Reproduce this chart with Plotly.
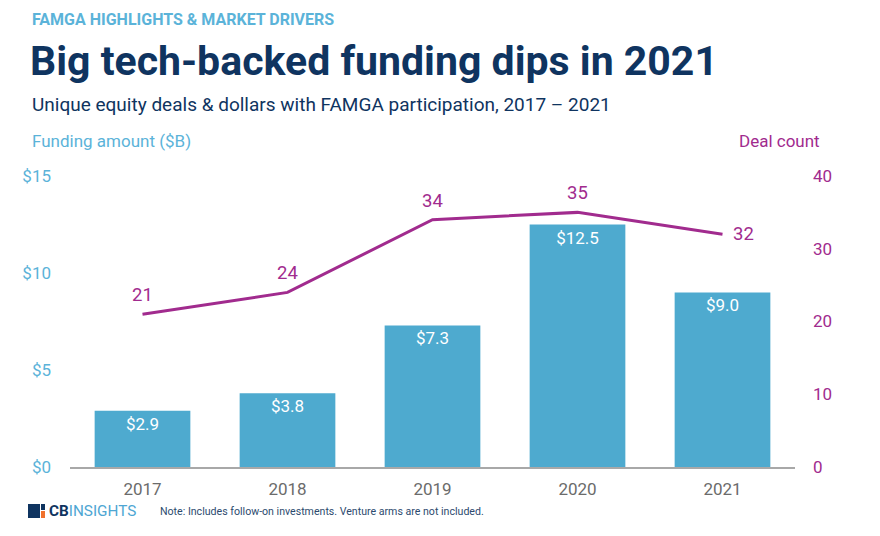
import plotly.graph_objects as go

years = ["2017", "2018", "2019", "2020", "2021"]
funding = [2.9, 3.8, 7.3, 12.5, 9.0]
deals = [21, 24, 34, 35, 32]
funding_labels = ["$2.9", "$3.8", "$7.3", "$12.5", "$9.0"]
left_ticks = [0, 5, 10, 15]
left_ticktext = ["$0", "$5", "$10", "$15"]
right_ticks = [0, 10, 20, 30, 40]

BLUE = "#4EAACF"
LIGHT = "#5BB3D9"
PURPLE = "#A12B8E"
NAVY = "#0F3460"
FONT = "Roboto"

W, H = 880, 536
L, R, T, B = 70, 85, 176, 69
pw, ph = W - L - R, H - T - B

fig = go.Figure()
fig.add_trace(go.Bar(
    x=years, y=funding, marker=dict(color=BLUE, line=dict(width=0)),
    text=funding_labels, textposition="inside", insidetextanchor="end",
    textfont=dict(color="white", size=17, family=FONT), textangle=0,
    hoverinfo="skip", showlegend=False, yaxis="y"))
fig.add_trace(go.Scatter(
    x=years, y=deals, mode="lines", line=dict(color=PURPLE, width=3),
    hoverinfo="skip", showlegend=False, yaxis="y2", cliponaxis=False))

annotations = []
for i, d in enumerate(deals):
    last = i == len(deals) - 1
    annotations.append(dict(
        x=i, y=d, xref="x", yref="y2", text=str(d), showarrow=False,
        xanchor="left" if last else "center", yanchor="middle",
        xshift=8 if last else 0, yshift=0 if last else 19,
        font=dict(size=18.5, color=PURPLE, family=FONT)))

fig.update_layout(
    width=W, height=H, margin=dict(l=L, r=R, t=T, b=B),
    paper_bgcolor="white", plot_bgcolor="white",
    font=dict(family=FONT),
    bargap=0.34,
    xaxis=dict(type="category", range=[-0.5, 4.5], showline=True, linecolor="#A8A8A8",
               linewidth=2, ticks="", showgrid=False, zeroline=False,
               tickfont=dict(size=17, color="#6B6B6B", family=FONT), ticklabelstandoff=6),
    yaxis=dict(range=[0, 15], tickvals=left_ticks, ticktext=left_ticktext, showgrid=False,
               zeroline=False, showline=False, ticks="",
               tickfont=dict(size=17, color=LIGHT, family=FONT), ticklabelstandoff=18),
    yaxis2=dict(range=[0, 40], tickvals=right_ticks, overlaying="y", side="right",
                showgrid=False, zeroline=False, showline=False, ticks="",
                tickfont=dict(size=17, color=PURPLE, family=FONT), ticklabelstandoff=17),
)

texts = [
    dict(text="<b>FAMGA HIGHLIGHTS &amp; MARKET DRIVERS</b>", x=30, y=19, size=16, color=LIGHT, anchor="left"),
    dict(text="<b>Big tech-backed funding dips in 2021</b>", x=28, y=61, size=41, color=NAVY, anchor="left"),
    dict(text="Unique equity deals &amp; dollars with FAMGA participation, 2017 – 2021", x=30, y=104, size=19, color=NAVY, anchor="left"),
    dict(text="Funding amount ($B)", x=30, y=141, size=17, color=LIGHT, anchor="left"),
    dict(text="Deal count", x=822, y=141, size=17, color=PURPLE, anchor="right"),
    dict(text="Note: Includes follow-on investments. Venture arms are not included.", x=158, y=511, size=10.6, color="#2C4A6E", anchor="left"),
    dict(text="<b>CB</b><span style='color:#4EA6D3'>INSIGHTS</span>", x=47, y=511, size=15.3, color=NAVY, anchor="left"),
]
for a in texts:
    annotations.append(dict(text=a["text"], x=(a["x"] - L) / pw, y=1 - (a["y"] - T) / ph,
                            xref="paper", yref="paper", xanchor=a["anchor"], yanchor="middle",
                            showarrow=False, font=dict(size=a["size"], color=a["color"], family=FONT)))
fig.update_layout(annotations=annotations)

def rect(x0, y0, x1, y1, color):
    return dict(type="rect", xref="paper", yref="paper",
                x0=(x0 - L) / pw, x1=(x1 - L) / pw,
                y0=1 - (y1 - T) / ph, y1=1 - (y0 - T) / ph,
                fillcolor=color, line=dict(width=0), layer="above")

fig.update_layout(shapes=[
    rect(28, 504, 40, 518, NAVY),
    rect(41, 504, 45, 510, NAVY),
    rect(41, 511, 45, 518, "#F0712C"),
])

fig.write_html("out.html")
